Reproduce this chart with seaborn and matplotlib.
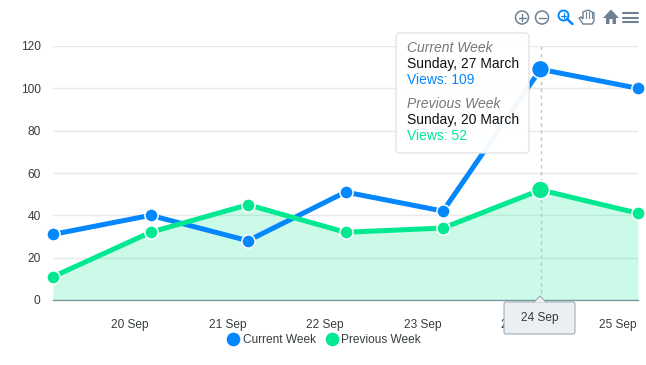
import pandas as pd
import matplotlib
matplotlib.use('Agg')
import matplotlib.pyplot as plt
import matplotlib.dates as mdates
from matplotlib.lines import Line2D
from matplotlib.patches import Circle, FancyBboxPatch, Polygon
import seaborn as sns

times = ['2022-09-19 05:00', '2022-09-20 05:00', '2022-09-21 05:00', '2022-09-22 05:00',
         '2022-09-23 05:00', '2022-09-24 05:00', '2022-09-25 05:00']
current_week = [31, 40, 28, 51, 42, 109, 100]
previous_week = [11, 32, 45, 32, 34, 52, 41]
y_ticks = [0, 20, 40, 60, 80, 100, 120]
hover = 5

BLUE = '#0486FD'
GREEN = '#00E890'
ICON = '#6E8192'
TXT = '#373D3F'

sns.set_style('white')
plt.rcParams['font.family'] = ['Liberation Sans', 'DejaVu Sans']

df = pd.DataFrame({'time': pd.to_datetime(times), 'Current Week': current_week, 'Previous Week': previous_week})
long_df = df.melt(id_vars='time', var_name='series', value_name='views')
palette = {'Current Week': BLUE, 'Previous Week': GREEN}

fig = plt.figure(figsize=(6.46, 3.65), dpi=100)
ax = fig.add_axes([53 / 646, 65 / 365, 585 / 646, 254 / 365])

ax.fill_between(df['time'], df['Previous Week'], color=GREEN, alpha=0.2, lw=0, zorder=1)
sns.lineplot(data=long_df, x='time', y='views', hue='series', palette=palette, ax=ax, legend=False,
             linewidth=3.6, marker='o', markersize=9.5, markeredgecolor='white', markeredgewidth=1.1,
             clip_on=False, zorder=3)
sns.scatterplot(data=long_df[long_df['time'] == df['time'][hover]], x='time', y='views', hue='series',
                palette=palette, ax=ax, legend=False, s=165, edgecolor='white', linewidth=1.1,
                clip_on=False, zorder=4)
ax.axvline(df['time'][hover], color='#C4C4C4', lw=1, ls=(0, (2.5, 2.5)), zorder=2)

ax.set_xlim(df['time'].iloc[0], df['time'].iloc[-1])
ax.set_ylim(0, 120)
ax.set_yticks(y_ticks)
ax.xaxis.set_major_locator(mdates.DayLocator())
ax.xaxis.set_major_formatter(mdates.DateFormatter('%d %b'))
ax.set_xlabel('')
ax.set_ylabel('')
ax.grid(axis='y', color='#E8E8E8', lw=1)
ax.set_axisbelow(True)
sns.despine(ax=ax, left=True, top=True, right=True)
ax.spines['bottom'].set_color('#78909C')
ax.spines['bottom'].set_linewidth(0.9)
ax.tick_params(axis='x', length=4.3, width=0.8, color='#78909C', labelsize=8.6, labelcolor=TXT, pad=9.5)
ax.tick_params(axis='y', length=0, labelsize=8.6, labelcolor=TXT, pad=9)

handles = [Line2D([], [], ls='', marker='o', ms=8.8, color=BLUE, label='Current Week'),
           Line2D([], [], ls='', marker='o', ms=8.8, color=GREEN, label='Previous Week')]
ax.legend(handles=handles, ncol=2, frameon=False, fontsize=8.6, labelcolor=TXT, loc='center',
          bbox_to_anchor=(323 / 646, 25 / 365), bbox_transform=fig.transFigure,
          handletextpad=0.07, columnspacing=0.68, borderpad=0, handlelength=1.4)

# overlay in pixel coordinates for tooltip and toolbar
ov = fig.add_axes([0, 0, 1, 1], zorder=10)
ov.set_xlim(0, 646)
ov.set_ylim(365, 0)
ov.axis('off')
ov.patch.set_alpha(0)

ov.add_patch(FancyBboxPatch((399, 36), 127, 114, boxstyle='round,pad=3,rounding_size=4', fc='white',
                            ec='#E3E3E3', lw=1, alpha=0.96))
rows = [(48, 'Current Week', '#777777', 'italic'), (64, 'Sunday, 27 March', '#111111', 'normal'),
        (80, 'Views: 109', BLUE, 'normal'), (104, 'Previous Week', '#777777', 'italic'),
        (120, 'Sunday, 20 March', '#111111', 'normal'), (136, 'Views: 52', GREEN, 'normal')]
for y, s, c, st in rows:
    ov.text(407, y, s, color=c, style=st, fontsize=10, va='center', ha='left')

ov.add_patch(FancyBboxPatch((504, 302), 71, 32, boxstyle='round,pad=0,rounding_size=2', fc='#ECEFF1',
                            ec='#90A4AE', lw=0.7))
ov.add_patch(Polygon([(534, 302.5), (540, 296), (546, 302.5)], fc='#ECEFF1', ec='none'))
ov.plot([534, 540, 546], [302, 296, 302], color='#90A4AE', lw=0.7)
ov.text(540, 318, '24 Sep', color=TXT, fontsize=8.6, ha='center', va='center')

# toolbar icons
for cx, cross in [(522, True), (542, False)]:
    ov.add_patch(Circle((cx, 17.5), 6.5, fc='none', ec=ICON, lw=1.1))
    ov.plot([cx - 3.5, cx + 3.5], [17.5, 17.5], color=ICON, lw=1)
    if cross:
        ov.plot([cx, cx], [14, 21], color=ICON, lw=1)
ov.add_patch(Circle((563.5, 15.5), 5, fc='none', ec=BLUE, lw=1.4))
ov.plot([567, 572.5], [19, 24], color=BLUE, lw=1.8)
ov.plot([561, 566], [15.5, 15.5], color=BLUE, lw=0.9)
ov.plot([563.5, 563.5], [13, 18], color=BLUE, lw=0.9)
ov.add_patch(Polygon([(583, 24), (579, 18), (581, 17), (583, 19), (583, 12), (585, 11), (586, 11), (588, 10),
                      (590, 11), (592, 12), (594, 13), (594, 21), (592, 24)], fc='white', ec=ICON, lw=1))
for hx in [586, 589, 591.5]:
    ov.plot([hx, hx], [12, 18], color=ICON, lw=0.8)
ov.add_patch(Polygon([(603, 18), (611, 9.5), (619, 18), (616, 18), (616, 24), (612.5, 24), (612.5, 19),
                      (609.5, 19), (609.5, 24), (606, 24), (606, 18)], fc=ICON, ec='none'))
for ly in [13, 17.5, 22]:
    ov.plot([623, 638], [ly, ly], color=ICON, lw=1.5)

fig.savefig('out.png', dpi=100)
